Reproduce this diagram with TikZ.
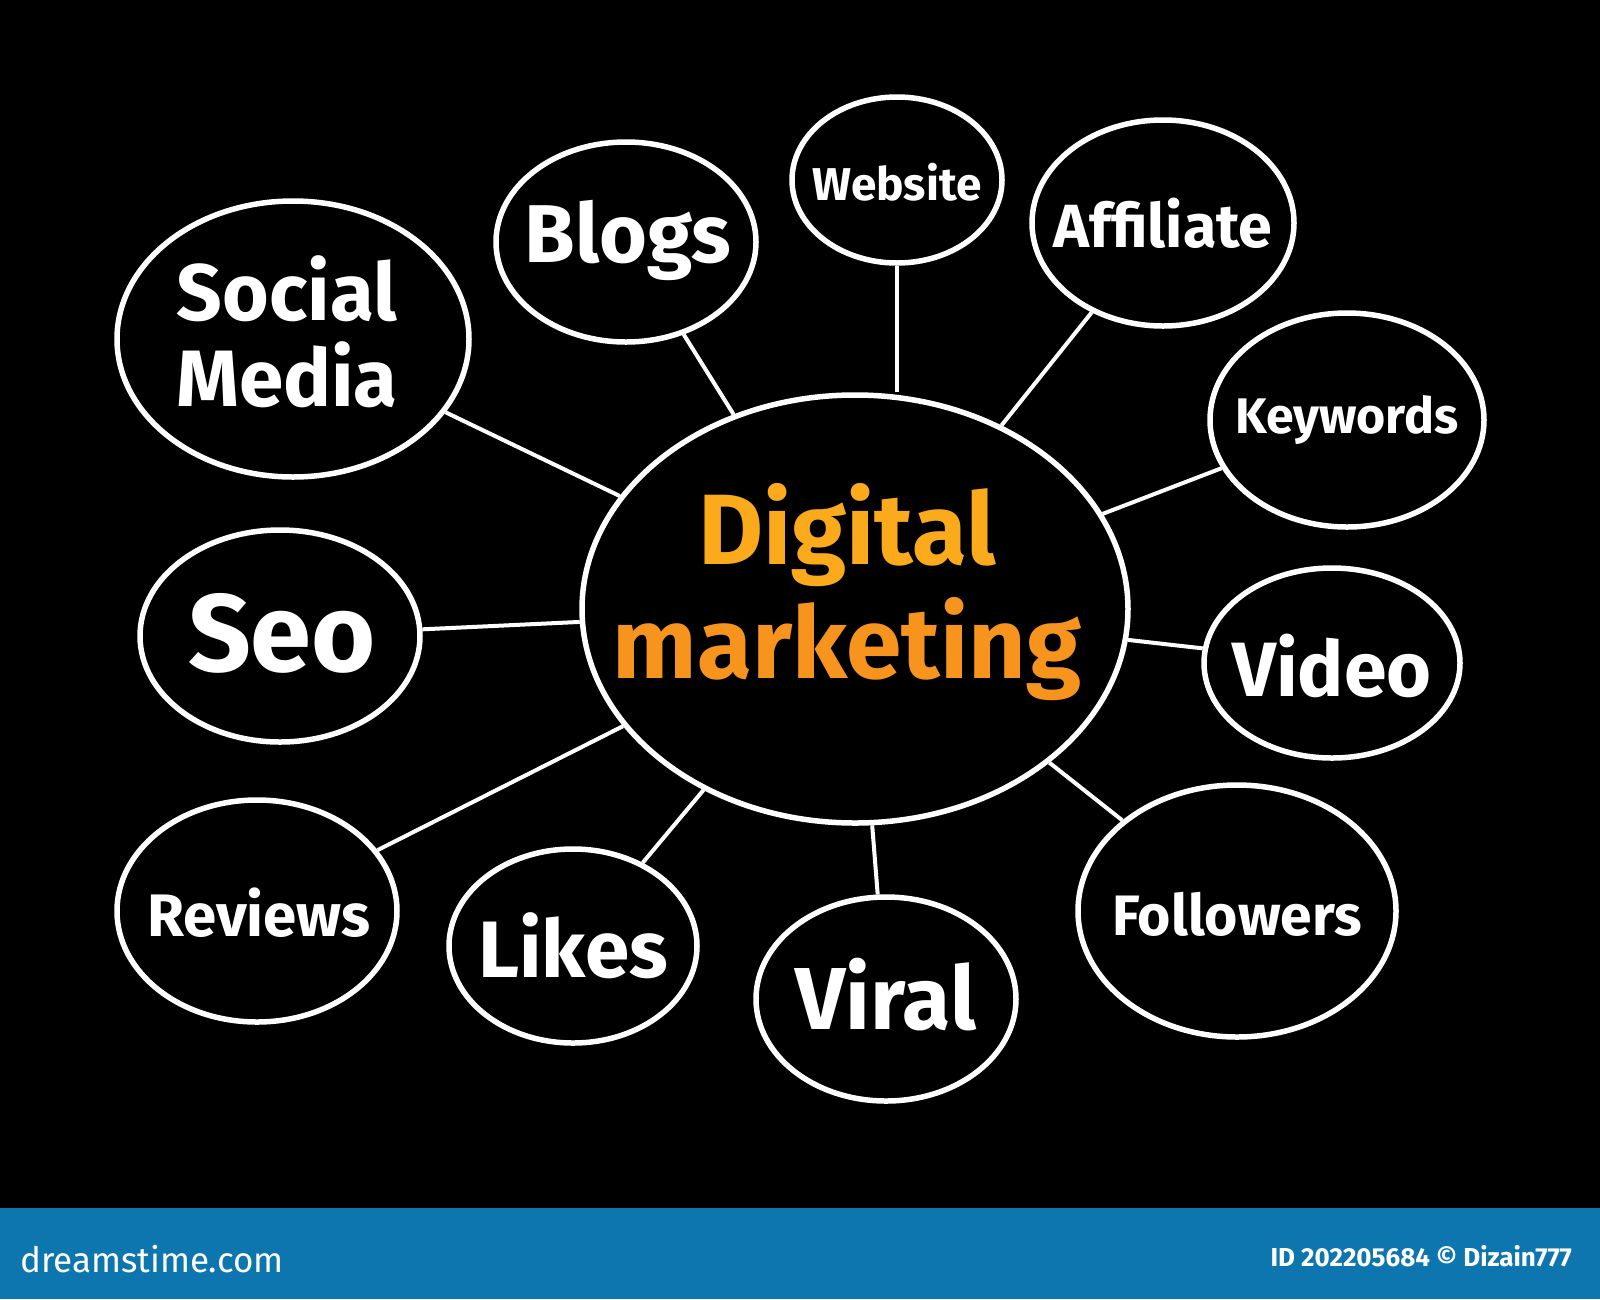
\documentclass[tikz,border=0pt]{standalone}
\usepackage{fontspec}
\setmainfont{Fira Sans}
\usetikzlibrary{shapes.geometric}
\definecolor{footblue}{HTML}{0E76AE}
\definecolor{orangeA}{HTML}{FBAA1C}
\definecolor{orangeB}{HTML}{F7941D}
\begin{document}
\begin{tikzpicture}[x=1pt,y=-1pt,
  bub/.style={ellipse, draw=white, line width=5.5pt, inner sep=0pt},
  link/.style={draw=white, line width=4pt},
  lbl/.style={text=white, font=\bfseries, align=center, inner sep=0pt}]
\fill[black] (0,0) rectangle (1600,1208);
\fill[footblue] (0,1208) rectangle (1600,1299);
\useasboundingbox (0,0) rectangle (1600,1299);

% bubbles
\node[bub, minimum width=546pt, minimum height=428pt] (dm) at (855,609) {};
\node[bub, minimum width=352pt, minimum height=276pt] (sm) at (293,339) {};
\node[bub, minimum width=260pt, minimum height=200pt] (bl) at (626,242) {};
\node[bub, minimum width=210pt, minimum height=166pt] (ws) at (897,180) {};
\node[bub, minimum width=262pt, minimum height=206pt] (af) at (1163,223) {};
\node[bub, minimum width=274pt, minimum height=214pt] (kw) at (1347,420) {};
\node[bub, minimum width=256pt, minimum height=190pt] (vd) at (1332,663) {};
\node[bub, minimum width=318pt, minimum height=252pt] (fo) at (1237,911) {};
\node[bub, minimum width=260pt, minimum height=204pt] (vi) at (886,999) {};
\node[bub, minimum width=248pt, minimum height=194pt] (li) at (573,946) {};
\node[bub, minimum width=280pt, minimum height=222pt] (rv) at (257,911) {};
\node[bub, minimum width=280pt, minimum height=212pt] (se) at (280,636) {};

% connectors
\foreach \n in {sm,bl,af,kw,vd,fo,vi,li,rv,se}
  \draw[link] (dm) -- (\n);
\draw[link] (dm.north -| ws.south) -- (ws.south);

% labels
\node[lbl, font=\bfseries\fontsize{100}{114}\selectfont] (dmt) at (847,592)
  {\textcolor{orangeA}{Digital}\\\textcolor{orangeB}{marketing}};
\node[lbl, font=\bfseries\fontsize{80}{86}\selectfont] (smt) at (287,332) {Social\\Media};
\node[lbl, font=\bfseries\fontsize{82}{82}\selectfont] (blt) at (628,240) {Blogs};
\node[lbl, font=\bfseries\fontsize{46}{46}\selectfont] (wst) at (897,182) {Website};
\node[lbl, font=\bfseries\fontsize{61}{61}\selectfont] (aft) at (1163,223) {Aff{}iliate};
\node[lbl, font=\bfseries\fontsize{50}{50}\selectfont] (kwt) at (1347,420) {Keywords};
\node[lbl, font=\bfseries\fontsize{77}{77}\selectfont] (vdt) at (1332,666) {Video};
\node[lbl, font=\bfseries\fontsize{57}{57}\selectfont] (fot) at (1237,914) {Followers};
\node[lbl, font=\bfseries\fontsize{88}{88}\selectfont] (vit) at (886,995) {Viral};
\node[lbl, font=\bfseries\fontsize{80}{80}\selectfont] (lit) at (573,946) {Likes};
\node[lbl, font=\bfseries\fontsize{60}{60}\selectfont] (rvt) at (259,913) {Reviews};
\node[lbl, font=\bfseries\fontsize{110}{110}\selectfont] (set) at (282,633) {Seo};

% footer
\node[anchor=west, text=white, inner sep=0pt, font=\fontsize{35}{35}\selectfont] (ft) at (20,1259) {dreamstime.com};
\node[anchor=east, text=white, inner sep=0pt, font=\bfseries\fontsize{26}{26}\selectfont] (fid) at (1572,1256) {ID 202205684 © Dizain777};
\end{tikzpicture}
\end{document}
